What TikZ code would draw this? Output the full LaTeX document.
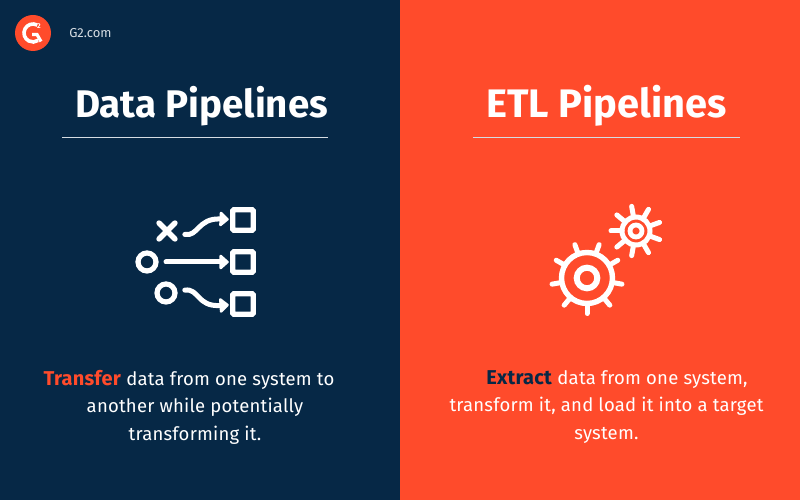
\documentclass[tikz,border=0pt]{standalone}
\usepackage{fontspec}
\setmainfont{Fira Sans}
\newfontfamily\bodyface[LetterSpace=1.2]{Fira Sans}
\usetikzlibrary{arrows.meta,shapes.misc,positioning}
\definecolor{navy}{HTML}{062846}
\definecolor{flame}{HTML}{FF4B2B}
\definecolor{rulegray}{HTML}{D5DCE2}
\newcommand{\keyword}[2]{\textcolor{#1}{\fontsize{20}{27.5}\selectfont\textbf{#2}}}
\tikzstyle{heading} = [text=white, font=\bfseries\fontsize{38.5}{42}\selectfont, inner sep=0pt]
\tikzstyle{bodytext} = [text=white, align=center, inner sep=0pt, font=\bodyface\fontsize{18.5}{27.5}\selectfont]
\tikzstyle{headrule} = [draw=rulegray, line width=0.9pt]
\tikzstyle{target} = [draw=white, line width=5.2pt, rectangle, rounded corners=1pt, minimum size=20.5pt, inner sep=0pt, outer sep=0pt]
\tikzstyle{source} = [draw=white, line width=5.2pt, circle, minimum size=18pt, inner sep=0pt, outer sep=0pt]
\tikzstyle{flow} = [draw=white, line width=5pt, line cap=round, -{Triangle[round,length=10pt,width=17pt]}, shorten >=4pt]
\tikzstyle{tooth} = [draw=white, line width=5pt, line cap=round]
\begin{document}
\begin{tikzpicture}[x=1pt,y=1pt]
	\useasboundingbox (0,0) rectangle (800,500);
	\fill[navy] (0,0) rectangle (400,500);
	\fill[flame] (400,0) rectangle (800,500);
	% logo
	\node[circle, fill=flame, minimum size=36pt, inner sep=0pt] (logo) at (33,467) {};
	\draw[white, line width=3.6pt] (logo.center) ++(62:9) arc (62:305:9);
	\draw[white, line width=3.2pt] (logo.center) ++(-1,-1.5) -- ++(5,0) -- ++(4,-7);
	\node[text=white, font=\bfseries\fontsize{7}{7}\selectfont, inner sep=0pt] (logotwo) at (39,474) {2};
	\node[text=rulegray, font=\fontsize{13}{13}\selectfont, inner sep=0pt, right=18pt of logo] (site) {G2.com};
	% headings
	\node[heading] (datahead) at (201.5,394) {Data Pipelines};
	\node[heading, font=\bfseries\fontsize{39.8}{42}\selectfont] (etlhead) at (606.5,394) {ETL Pipelines};
	\draw[headrule] (62,363) -- (328,363);
	\draw[headrule] (473,363) -- (740,363);
	% pipeline icon
	\node[target] (dsta) at (243,280) {};
	\node[target] (dstb) at (243,238) {};
	\node[target] (dstc) at (243,196) {};
	\node[cross out, draw=white, line width=5.4pt, line cap=round, minimum size=16pt, inner sep=0pt, outer sep=0pt] (xmark) at (167,269) {};
	\node[source] (midring) at (147,238) {};
	\node[source] (lowring) at (166,207) {};
	\draw[flow, shorten <=10pt] (xmark) .. controls (198,263) and (198,282) .. (dsta);
	\draw[flow, shorten <=10pt] (midring) -- (dstb);
	\draw[flow, shorten <=10pt] (lowring) .. controls (199,212) and (197,193) .. (dstc);
	% gears
	\node[circle, draw=white, line width=5.4pt, minimum size=51pt, inner sep=0pt, outer sep=0pt] (bigcog) at (587,222) {};
	\node[circle, draw=white, line width=6pt, minimum size=20.6pt, inner sep=0pt, outer sep=0pt] (bighub) at (587,222) {};
	\foreach \a in {-90,-50,...,230}
		\draw[tooth] (bigcog.\a) -- ++(\a:10);
	\node[circle, draw=white, line width=5pt, minimum size=28pt, inner sep=0pt, outer sep=0pt] (smallcog) at (636,269) {};
	\node[circle, draw=white, line width=4.8pt, minimum size=12pt, inner sep=0pt, outer sep=0pt] (smallhub) at (636,269) {};
	\foreach \a in {20,60,...,340}
		\draw[tooth] (smallcog.\a) -- ++(\a:11);
	% captions
	\node[bodytext] (datatext) at (195,93) {\hspace*{-12pt}\keyword{flame}{Transfer} data from one system to\\another while potentially\\transforming it.};
	\node[bodytext] (etltext) at (606.5,93) {\hspace*{21pt}\keyword{navy}{Extract} data from one system,\\transform it, and load it into a target\\system.};
\end{tikzpicture}
\end{document}
